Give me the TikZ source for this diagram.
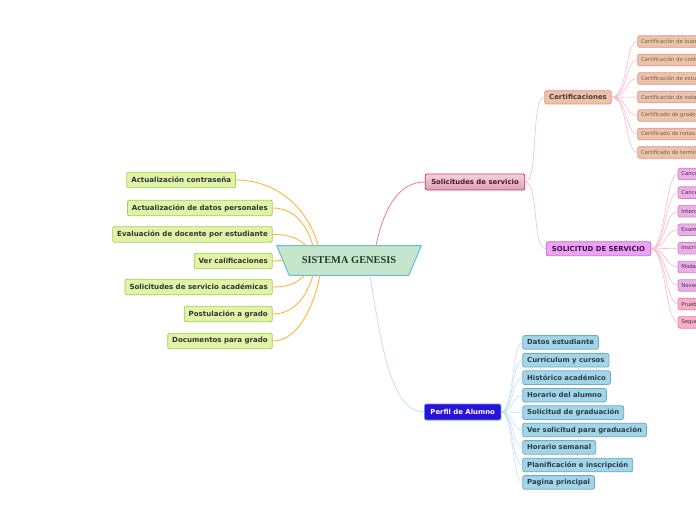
\documentclass[tikz,border=0pt]{standalone}
\usepackage{fontspec}
\newfontfamily\vfont{DejaVu Sans}
\newfontfamily\tfont{Liberation Serif}
\definecolor{grnf}{HTML}{E0F4A8}
\definecolor{grnb}{HTML}{A8CE55}
\definecolor{txtd}{HTML}{333333}
\definecolor{orc}{HTML}{F6B93B}
\definecolor{rootf}{HTML}{C6E6CC}
\definecolor{rootb}{HTML}{62BCE6}
\definecolor{roott}{HTML}{1E3A2A}
\definecolor{pkc}{HTML}{F27A9A}
\definecolor{lpkc}{HTML}{F8BACC}
\definecolor{ssb}{HTML}{E0306A}
\definecolor{sstop}{HTML}{F2D4DC}
\definecolor{ssbot}{HTML}{D8A2B2}
\definecolor{sst}{HTML}{5A1030}
\definecolor{certf}{HTML}{E8C3A5}
\definecolor{certb}{HTML}{EE8AA0}
\definecolor{certt}{HTML}{4A3A3A}
\definecolor{cchf}{HTML}{E9C4A9}
\definecolor{cchb}{HTML}{E8909A}
\definecolor{ccht}{HTML}{7A5A4A}
\definecolor{solf}{HTML}{EDA2F2}
\definecolor{solb}{HTML}{B77ACF}
\definecolor{solt}{HTML}{3A1050}
\definecolor{schf}{HTML}{EBAEE6}
\definecolor{schb}{HTML}{C488C8}
\definecolor{sch2f}{HTML}{F7B0C8}
\definecolor{sch2b}{HTML}{EE7F9A}
\definecolor{scht}{HTML}{4A2A4A}
\definecolor{perff}{HTML}{2B12D9}
\definecolor{perfb}{HTML}{4AA0E0}
\definecolor{pchf}{HTML}{A2D5E6}
\definecolor{pchb}{HTML}{6FA9CF}
\definecolor{pcht}{HTML}{2B3B4B}
\definecolor{blc}{HTML}{C4DFF2}
\begin{document}
\begin{tikzpicture}[x=1pt,y=-1pt,
  base/.style={rounded corners=2pt, line width=0.8pt, inner xsep=4.5pt, inner ysep=0pt,
    minimum height=15.5pt, font=\vfont\bfseries\fontsize{6.9}{8}\selectfont},
  leftn/.style={base, fill=grnf, draw=grnb, text=txtd, anchor=east,
    font=\vfont\bfseries\fontsize{7.05}{8}\selectfont},
  ocon/.style={draw=orc, line width=0.9pt},
  pcon/.style={draw=pkc, line width=0.8pt},
  lpcon/.style={draw=lpkc, line width=0.6pt},
  bcon/.style={draw=blc, line width=0.8pt},
  solserv/.style={base, top color=sstop, bottom color=ssbot, draw=ssb, text=sst, minimum height=16pt, inner xsep=6pt},
  certn/.style={base, fill=certf, draw=certb, text=certt, minimum height=13.3pt},
  solbig/.style={base, fill=solf, draw=solb, text=solt, minimum height=14pt, inner xsep=5.8pt},
  small/.style={rounded corners=2pt, line width=0.7pt, inner xsep=3.4pt, inner ysep=0pt,
    minimum height=11.6pt, anchor=west, font=\vfont\fontsize{5.35}{6}\selectfont},
  cch/.style={small, fill=cchf, draw=cchb, text=ccht},
  sch/.style={small, fill=schf, draw=schb, text=scht},
  schtwo/.style={small, fill=sch2f, draw=sch2b, text=scht},
  perfn/.style={base, fill=perff, draw=perfb, text=white, minimum height=16pt, inner xsep=6pt},
  pch/.style={base, fill=pchf, draw=pchb, text=pcht, minimum height=13.6pt, anchor=west}
]
\useasboundingbox (0,0) rectangle (696,520);
\fill[white] (0,0) rectangle (696,520);

% root
\node[minimum width=144.3pt, minimum height=29.3pt, inner sep=0pt] (root) at (349,260.4) {};
\filldraw[fill=rootf, draw=rootb, line width=1pt, line join=round]
  (root.north west) -- (root.north east) -- ([xshift=-12.5]root.south east)
  -- ([xshift=12.5]root.south west) -- cycle;
\node[font=\tfont\bfseries\fontsize{10.4}{12}\selectfont, text=roott] (roott) at (root.center) {SISTEMA GENESIS};

% left nodes
\node[leftn] (l1) at (236,180) {Actualización contraseña};
\node[leftn] (l2) at (272.7,208) {Actualización de datos personales};
\node[leftn] (l3) at (272.7,234.5) {Evaluación de docente por estudiante};
\node[leftn] (l4) at (272.7,261) {Ver calificaciones};
\node[leftn] (l5) at (272.7,287) {Solicitudes de servicio académicas};
\node[leftn] (l6) at (272.7,314) {Postulación a grado};
\node[leftn] (l7) at (272.7,341) {Documentos para grado};

\draw[ocon] (l1.east) .. controls +(45,0) and +(-8,-32) .. ([xshift=-31]root.north);
\draw[ocon] (l2.east) .. controls +(22,0) and +(-6,-20) .. ([xshift=-36]root.north);
\draw[ocon] (l3.east) .. controls +(18,0) and +(-8,-7) .. ([xshift=-43]root.north);
\draw[ocon] (l4.east) -- ([xshift=6.6]root.west);
\draw[ocon] (l5.east) .. controls +(18,0) and +(-8,7) .. ([xshift=-44]root.south);
\draw[ocon] (l6.east) .. controls +(22,0) and +(-6,20) .. ([xshift=-36]root.south);
\draw[ocon] (l7.east) .. controls +(26,0) and +(-6,30) .. ([xshift=-29]root.south);

% Solicitudes de servicio
\node[solserv] (ss) at (475,182) {Solicitudes de servicio};
\draw[pcon] ([xshift=27]root.north) .. controls +(8,-38) and +(-26,0) .. (ss.west);

\node[certn] (cert) at (578,97.3) {Certificaciones};
\node[solbig] (sol) at (598.5,248.7) {SOLICITUD DE SERVICIO};
\draw[lpcon] (ss.east) .. controls +(14,0) and +(-14,0) .. (cert.west);
\draw[lpcon] (ss.east) .. controls +(14,0) and +(-14,0) .. (sol.west);

\foreach \i/\y/\t in {1/41.5/Certificación de buena conducta,
                      2/60/Certificación de contenidos programáticos,
                      3/78.5/Certificación de estudios,
                      4/97/Certificación de notas,
                      5/115.5/Certificado de grado,
                      6/134/Certificado de notas,
                      7/152.5/Certificado de terminación}{
  \node[cch] (c\i) at (637.3,\y) {\t};
  \draw[lpcon] (cert.east) .. controls +(16,0) and +(-12,0) .. (c\i.west);
}

\foreach \i/\y/\t in {1/174/Cancelación de asignaturas,
                      2/192.6/Cancelación de semestre,
                      3/211.1/Intercambio,
                      4/229.7/Examen supletorio,
                      5/248.3/Inscripción,
                      6/266.9/Modalidad de grado,
                      7/285.4/Novedades}{
  \node[sch] (s\i) at (677.7,\y) {\t};
  \draw[lpcon] (sol.east) .. controls +(14,0) and +(-12,0) .. (s\i.west);
}
\foreach \i/\y/\t in {8/304/Prueba,
                      9/322.4/Seguro}{
  \node[schtwo] (s\i) at (677.7,\y) {\t};
  \draw[lpcon] (sol.east) .. controls +(14,0) and +(-12,0) .. (s\i.west);
}

% Perfil de Alumno
\node[perfn] (pa) at (462.7,412) {Perfil de Alumno};
\draw[bcon] ([xshift=21]root.south) .. controls +(12,75) and +(-32,0) .. (pa.west);

\foreach \i/\y/\t in {1/342.4/Datos estudiante,
                      2/360.2/Currículum y cursos,
                      3/377.6/Histórico académico,
                      4/395.2/Horario del alumno,
                      5/412.6/Solicitud de graduación,
                      6/430/Ver solicitud para graduación,
                      7/447.4/Horario semanal,
                      8/465/Planificación e inscripción,
                      9/482.4/Pagina principal}{
  \node[pch] (p\i) at (522.3,\y) {\t};
  \draw[bcon, line width=0.6pt] (pa.east) .. controls +(12,0) and +(-10,0) .. (p\i.west);
}
\end{tikzpicture}
\end{document}
